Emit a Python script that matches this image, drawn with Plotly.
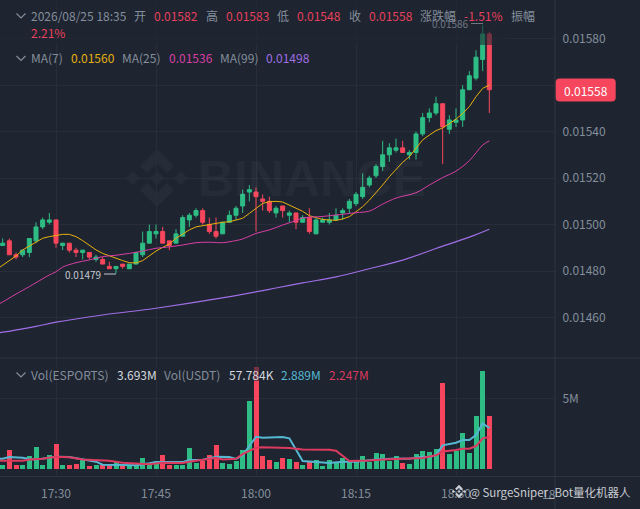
import pandas as pd
import plotly.graph_objects as go
from plotly.subplots import make_subplots

W, H = 640, 509
PRICE_UNIT = 1e-5  # prices below are in units of 0.00001

BG = "#1e2530"
GRID = "#272e39"
SEP = "#2e3541"
GRAY = "#848e9c"
UP = "#2ebd85"
DOWN = "#f6465d"
TEXT_RED = "#e8405c"
FONT = "Noto Sans CJK SC"

times = pd.date_range("2026-08-25 17:22", periods=74, freq="min")
lead_time = pd.Timestamp("2026-08-25 17:21")  # lines run on past the left edge

opens = [1491, 1493, 1487, 1487, 1488, 1493, 1499, 1501, 1502, 1491, 1492, 1489, 1488, 1488, 1485, 1485, 1482, 1481, 1483,
         1481, 1483, 1487, 1492, 1496, 1497, 1493, 1492, 1495, 1502, 1504, 1506, 1500, 1497, 1496, 1501, 1504, 1508, 1514,
         1514, 1511, 1510, 1505, 1508, 1504, 1505, 1501, 1503, 1496, 1501, 1501, 1502, 1505, 1507, 1509, 1512, 1517, 1521,
         1525, 1530, 1532, 1533, 1530, 1531, 1539, 1546, 1548, 1552, 1541, 1544, 1545, 1558, 1563, 1571, 1582]
highs = [1494, 1494, 1488, 1489, 1494, 1501, 1503, 1505, 1502, 1492, 1492, 1490, 1489, 1488, 1487, 1486, 1484, 1482, 1483,
         1483, 1488, 1497, 1500, 1500, 1499, 1493, 1498, 1504, 1505, 1507, 1507, 1503, 1503, 1501, 1506, 1508, 1515, 1517,
         1516, 1513, 1512, 1508, 1508, 1506, 1505, 1504, 1507, 1503, 1503, 1505, 1507, 1507, 1511, 1514, 1522, 1521, 1526,
         1536, 1535, 1537, 1536, 1532, 1540, 1548, 1550, 1555, 1552, 1547, 1550, 1560, 1566, 1575, 1586, 1583]
lows = [1491, 1487, 1485, 1486, 1486, 1492, 1498, 1500, 1490, 1489, 1488, 1486, 1485, 1485, 1484, 1483, 1481, 1479, 1481,
        1481, 1483, 1486, 1492, 1494, 1492, 1489, 1492, 1495, 1499, 1503, 1500, 1496, 1494, 1496, 1501, 1502, 1505, 1510,
        1497, 1506, 1505, 1503, 1503, 1501, 1498, 1501, 1496, 1496, 1501, 1500, 1502, 1502, 1505, 1508, 1511, 1516, 1520,
        1523, 1527, 1531, 1531, 1528, 1528, 1538, 1544, 1547, 1526, 1539, 1542, 1542, 1558, 1562, 1566, 1548]
closes = [1492, 1487, 1486, 1489, 1494, 1499, 1502, 1502, 1492, 1492, 1489, 1488, 1489, 1486, 1486, 1483, 1481, 1482, 1482,
          1483, 1488, 1492, 1497, 1497, 1492, 1491, 1496, 1503, 1504, 1506, 1501, 1497, 1495, 1501, 1504, 1507, 1513, 1515,
          1512, 1510, 1506, 1507, 1506, 1505, 1501, 1503, 1497, 1502, 1502, 1502, 1504, 1506, 1510, 1513, 1516, 1520, 1525,
          1530, 1533, 1533, 1531, 1531, 1539, 1546, 1548, 1552, 1542, 1545, 1545, 1558, 1564, 1572, 1582, 1558]

# one value per candle
ma7 = [1482.6, 1484.5, 1486.5, 1489.1, 1490.8, 1492.4, 1494.1, 1494.8, 1495.4, 1495.8, 1495.8, 1494.8, 1493.1, 1491.2,
       1489.1, 1487.6, 1486.5, 1485.5, 1484.5, 1483.6, 1483.5, 1484.5, 1486.5, 1488.6, 1490.2, 1491.6, 1494.1, 1495.9,
       1497.7, 1499.0, 1499.5, 1500.1, 1500.7, 1501.0, 1501.2, 1502.0, 1502.7, 1504.8, 1507.0, 1509.1, 1509.8, 1510.0,
       1509.7, 1508.4, 1507.0, 1505.7, 1503.8, 1503.0, 1502.2, 1502.0, 1501.8, 1502.4, 1503.4, 1505.5, 1507.7, 1510.5,
       1513.7, 1517.0, 1520.6, 1523.7, 1526.8, 1529.2, 1532.8, 1536.4, 1538.5, 1540.4, 1541.6, 1543.5, 1545.3, 1547.8,
       1550.7, 1555.0, 1558.6, 1560.0]
ma7_lead = 1480.5

# the slower lines were read every few candles
ma25_idx = [0, 2, 4, 5, 7, 8, 9, 11, 13, 15, 17, 19, 21, 23, 25, 27, 29, 31, 33, 34, 36, 38, 40, 42, 44, 45, 48, 50,
            53, 55, 57, 59, 62, 64, 66, 68, 70, 72, 73]
ma25 = [1466.7, 1470.1, 1473.3, 1475.0, 1478.3, 1479.7, 1481.7, 1483.6, 1484.8, 1486.2, 1486.8, 1487.6, 1488.6, 1489.8,
        1490.4, 1491.2, 1492.2, 1492.4, 1492.2, 1492.6, 1493.8, 1496.2, 1497.7, 1499.8, 1501.7, 1502.8, 1503.5, 1504.1,
        1505.1, 1505.8, 1508.8, 1511.4, 1513.7, 1517.0, 1520.2, 1523.0, 1527.5, 1534.2, 1536.0]
ma25_lead = 1465.2

ma99_idx = [0, 5, 8, 15, 23, 32, 41, 45, 50, 55, 60, 65, 70, 73]
ma99 = [1453.7, 1456.2, 1458.0, 1461.1, 1464.0, 1468.0, 1472.7, 1474.9, 1477.5, 1481.0, 1484.7, 1489.7, 1494.6, 1498.0]
ma99_lead = 1453.4

# volume in millions
volumes = [0.24, 1.33, 0.26, 0.24, 0.90, 1.52, 0.28, 0.95, 1.73, 0.28, 0.24, 0.33, 0.62, 0.17, 0.24, 0.28, 0.24, 0.50,
           0.19, 0.24, 0.28, 0.73, 0.24, 0.57, 0.95, 0.28, 0.28, 0.28, 1.47, 0.43, 0.52, 0.95, 1.71, 0.38, 0.33, 0.52,
           1.33, 4.83, 7.25, 0.92, 0.62, 0.47, 0.73, 0.66, 0.47, 0.28, 0.47, 0.62, 0.19, 0.62, 0.43, 0.73, 0.57, 0.47,
           0.90, 0.47, 1.09, 1.04, 0.57, 0.92, 0.43, 0.33, 1.04, 1.26, 1.18, 1.40, 6.07, 1.04, 1.26, 2.56, 1.11, 3.74,
           6.97, 3.74]

vol_ma_idx = [0, 1, 3, 4, 5, 7, 8, 10, 12, 13, 14, 15, 17, 19, 20, 22, 23, 25, 27, 28, 30, 32, 33, 34, 35, 36, 37, 38,
              39, 42, 43, 44, 45, 47, 49, 51, 53, 56, 59, 61, 63, 64, 65, 66, 67, 68, 69, 70, 71, 72, 73]
vol_ma = [0.71, 0.83, 0.78, 0.69, 0.66, 0.78, 0.85, 0.83, 0.66, 0.62, 0.50, 0.28, 0.26, 0.26, 0.24, 0.38, 0.47, 0.47,
          0.47, 0.62, 0.64, 0.85, 0.85, 0.83, 0.69, 0.95, 1.61, 2.27, 2.20, 2.25, 2.16, 1.33, 0.55, 0.47, 0.40, 0.50,
          0.50, 0.66, 0.73, 0.71, 0.85, 0.81, 0.97, 1.66, 1.75, 1.85, 2.04, 2.04, 2.39, 3.22, 2.89]
vol_ma_lead = 0.68

usdt_ma_idx = [0, 3, 4, 6, 8, 10, 12, 14, 16, 18, 20, 22, 24, 27, 28, 30, 32, 33, 35, 36, 37, 38, 39, 43, 45, 49, 50,
               51, 52, 55, 57, 61, 63, 65, 66, 68, 69, 70, 71, 72, 73]
usdt_ma = [0.57, 0.57, 0.66, 0.71, 0.85, 0.81, 0.66, 0.64, 0.57, 0.43, 0.38, 0.31, 0.43, 0.40, 0.50, 0.62, 0.78, 0.66,
           0.71, 1.04, 1.28, 1.49, 1.52, 1.47, 1.37, 1.35, 1.28, 0.92, 0.55, 0.59, 0.66, 0.73, 0.76, 0.95, 1.23, 1.33,
           1.42, 1.42, 1.61, 2.16, 2.25]
usdt_ma_lead = 0.57


def price(values):
    return [round(v * PRICE_UNIT, 7) for v in values]


def at(idx):
    return [lead_time] + [times[i] for i in idx]


def px(x):
    return x / W


def py(y):
    return 1 - y / H


def label(x, y, text, color=GRAY, size=12, family=FONT, anchor="left"):
    return dict(x=px(x - 1 if anchor == "left" else x), y=py(y), xref="paper", yref="paper", text=text, showarrow=False,
                xanchor=anchor, yanchor="middle", font=dict(color=color, size=size, family=family), borderpad=0)


def path(points):
    return "M " + " L ".join(f"{px(x):.5f},{py(y):.5f}" for x, y in points)


def logo(cx, cy, s, color, layer):
    # diamond logo, sizes in screen pixels
    pieces = []
    for dx in (-24, 0, 24):
        pieces.append([(cx + (dx - 7) * s, cy), (cx + dx * s, cy - 7 * s), (cx + (dx + 7) * s, cy), (cx + dx * s, cy + 7 * s)])
    for sign in (1, -1):
        pieces.append([(cx - 17 * s, cy + sign * 12 * s), (cx, cy + sign * 29 * s), (cx + 17 * s, cy + sign * 12 * s),
                       (cx + 10 * s, cy + sign * 5 * s), (cx, cy + sign * 15 * s), (cx - 10 * s, cy + sign * 5 * s)])
    return [dict(type="path", xref="paper", yref="paper", path=path(p) + " Z", fillcolor=color, line_width=0, layer=layer)
            for p in pieces]


def chevron(y):
    return dict(type="path", xref="paper", yref="paper", path=path([(16.5, y), (21, y + 4.5), (25.5, y)]),
                line=dict(color=GRAY, width=1.2))


def hline(x0, x1, y, color, width=1, layer="above"):
    return dict(type="line", xref="paper", yref="paper", x0=px(x0), x1=px(x1), y0=py(y), y1=py(y),
                line=dict(color=color, width=width), layer=layer)


def rounded_rect(x0, y0, x1, y1, r):
    return (f"M {px(x0)},{py(y0 + r)} Q {px(x0)},{py(y0)} {px(x0 + r)},{py(y0)} L {px(x1 - r)},{py(y0)} "
            f"Q {px(x1)},{py(y0)} {px(x1)},{py(y0 + r)} L {px(x1)},{py(y1 - r)} Q {px(x1)},{py(y1)} {px(x1 - r)},{py(y1)} "
            f"L {px(x0 + r)},{py(y1)} Q {px(x0)},{py(y1)} {px(x0)},{py(y1 - r)} Z")


fig = make_subplots(rows=2, cols=1, shared_xaxes=True)

fig.add_trace(go.Candlestick(x=times, open=price(opens), high=price(highs), low=price(lows), close=price(closes),
                             increasing=dict(line=dict(color=UP, width=1), fillcolor=UP),
                             decreasing=dict(line=dict(color=DOWN, width=1), fillcolor=DOWN),
                             whiskerwidth=0, showlegend=False), row=1, col=1)
fig.add_trace(go.Scatter(x=at(range(len(times))), y=price([ma7_lead] + ma7), mode="lines",
                         line=dict(color="#e8b00f", width=1), showlegend=False), row=1, col=1)
fig.add_trace(go.Scatter(x=at(ma25_idx), y=price([ma25_lead] + ma25), mode="lines",
                         line=dict(color="#d83ea6", width=1, shape="spline"), showlegend=False), row=1, col=1)
fig.add_trace(go.Scatter(x=at(ma99_idx), y=price([ma99_lead] + ma99), mode="lines",
                         line=dict(color="#a06ee6", width=1.2, shape="spline"), showlegend=False), row=1, col=1)

bar_colors = [UP if c >= o else DOWN for o, c in zip(opens, closes)]
fig.add_trace(go.Bar(x=times, y=volumes, width=45000, marker=dict(color=bar_colors, line_width=0), showlegend=False),
              row=2, col=1)
fig.add_trace(go.Scatter(x=at(vol_ma_idx), y=[vol_ma_lead] + vol_ma, mode="lines", line=dict(color="#55b8d2", width=2),
                         showlegend=False), row=2, col=1)
fig.add_trace(go.Scatter(x=at(usdt_ma_idx), y=[usdt_ma_lead] + usdt_ma, mode="lines", line=dict(color="#dc3a5e", width=2),
                         showlegend=False), row=2, col=1)

x_range = ["2026-08-25 17:21:36", "2026-08-25 18:44:51"]
x_ticks = ["2026-08-25 17:30", "2026-08-25 17:45", "2026-08-25 18:00", "2026-08-25 18:15", "2026-08-25 18:30"]
x_labels = ["17:30", "17:45", "18:00", "18:15", "18:30"]

fig.update_layout(
    width=W, height=H, margin=dict(l=0, r=0, t=0, b=0), paper_bgcolor=BG, plot_bgcolor=BG,
    showlegend=False, hovermode=False, bargap=0, boxgap=0.4, boxgroupgap=0,
    font=dict(family=FONT, size=12, color=GRAY),
    xaxis=dict(domain=[0, 555 / W], range=x_range, tickmode="array", tickvals=x_ticks, showticklabels=False,
               gridcolor=GRID, showline=False, zeroline=False, rangeslider=dict(visible=False), ticks=""),
    xaxis2=dict(domain=[0, 555 / W], range=x_range, tickmode="array", tickvals=x_ticks, ticktext=x_labels,
                gridcolor=GRID, showline=False, zeroline=False, ticks="outside", ticklen=7, tickcolor="rgba(0,0,0,0)",
                tickfont=dict(size=12, color=GRAY)),
    yaxis=dict(domain=[py(358), 1], range=[0.014426, 0.015966], side="right", tick0=0.0146, dtick=0.0002,
               tickformat=".5f", gridcolor=GRID, zeroline=False, showline=False, ticks="outside", ticklen=4,
               tickcolor="rgba(0,0,0,0)", tickfont=dict(size=12, color=GRAY)),
    yaxis2=dict(domain=[py(476), py(358)], range=[-0.52, 7.87], side="right", tickmode="array", tickvals=[5],
                ticktext=["5M"], gridcolor=GRID, zeroline=False, showline=False, ticks="outside", ticklen=4,
                tickcolor="rgba(0,0,0,0)", tickfont=dict(size=12, color=GRAY)),
)

shapes = []
shapes += logo(157, 178, 1, "#262c37", "below")
shapes += [
    hline(0, W, 358, SEP),
    hline(0, W, 476.5, SEP),
    dict(type="line", xref="paper", yref="paper", x0=px(555), x1=px(555), y0=py(0), y1=py(H), line=dict(color=SEP, width=1)),
    # the legend rows sit on a translucent band that dims the candles under them
    dict(type="rect", xref="paper", yref="paper", x0=0, x1=px(510), y0=py(0), y1=py(45), line_width=0,
         fillcolor="rgba(30,37,48,0.6)"),
    dict(type="rect", xref="paper", yref="paper", x0=0, x1=px(370), y0=py(367), y1=py(381), line_width=0,
         fillcolor="rgba(30,37,48,0.6)"),
    chevron(13.5), chevron(56), chevron(372.5),
    hline(471, 483, 23.5, "#6f7682"),
    hline(104, 116, 274, "#c3c8cf"),
    dict(type="path", xref="paper", yref="paper", path=rounded_rect(555.7, 78.5, 615.7, 101.5, 4), fillcolor=DOWN, line_width=0),
]
shapes += logo(459, 491.5, 0.23, "#c9ccd1", "above")
fig.update_layout(shapes=shapes)

fig.update_layout(annotations=[
    label(198, 179, "<b>BINANCE</b>", "rgba(255,255,255,0.035)", 50, "Liberation Sans"),
    label(31, 16, "2026/08/25 18:35"),
    label(134, 16, "开"), label(154, 16, "0.01582", TEXT_RED),
    label(206, 16, "高"), label(226, 16, "0.01583", TEXT_RED),
    label(277, 16, "低"), label(297, 16, "0.01548", TEXT_RED),
    label(349, 16, "收"), label(369, 16, "0.01558", TEXT_RED),
    label(420, 16, "涨跌幅"), label(464, 16, "-1.51%", TEXT_RED),
    label(511, 16, "振幅"),
    label(31, 32, "2.21%", TEXT_RED),
    label(31, 58, "MA(7)"), label(71, 58, "0.01560", "#e8b00f"),
    label(122, 58, "MA(25)"), label(168.5, 58, "0.01536", "#d83ea6"),
    label(220, 58, "MA(99)"), label(266, 58, "0.01498", "#a06ee6"),
    label(31, 374, "Vol(ESPORTS)"), label(117, 374, "3.693M", "#d5d9de"),
    label(164, 374, "Vol(USDT)"), label(228.7, 374, "57.784K", "#d5d9de"),
    label(281, 374, "2.889M", "#55b8d2"), label(329, 374, "2.247M", "#dc3a5e"),
    label(432, 24, "0.01586", "#6f7682", 10),
    label(65, 274, "0.01479", "#c3c8cf", 10),
    label(585.7, 90, "0.01558", "#ffffff", 12, anchor="center"),
    label(542, 493, "18"),
    label(469, 492, "@ SurgeSniper_Bot量化机器人", "#c9ccd1", 11.5),
])

fig.write_html("out.html", config=dict(displayModeBar=False),
               post_script="document.body.style.margin='0';document.body.style.overflow='hidden';")
